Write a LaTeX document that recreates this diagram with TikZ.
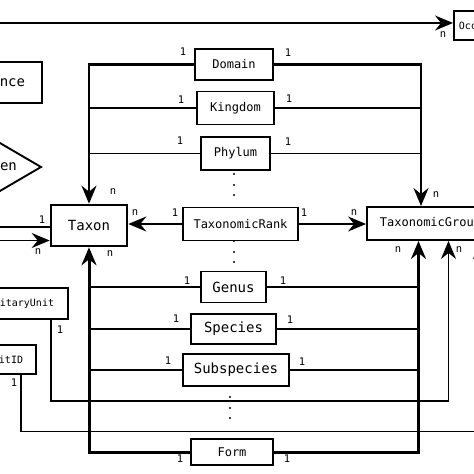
\documentclass[tikz,border=0pt]{standalone}
\usepackage{fontspec}
\setmainfont{DejaVu Sans Mono}
\usetikzlibrary{arrows.meta}
\begin{document}
\begin{tikzpicture}[x=1pt, y=-1pt,
  entity/.style={rectangle, draw, line width=1.9pt, inner sep=0pt, font=\fontsize{12}{14}\selectfont},
  bigentity/.style={entity, font=\fontsize{14}{16}\selectfont},
  smallentity/.style={entity, font=\fontsize{10}{12}\selectfont},
  card/.style={inner sep=0pt, font=\fontsize{10.5}{12}\selectfont},
  conn/.style={line width=1.8pt},
  bold/.style={line width=3pt},
  arrow/.style={-{Stealth[length=18pt, width=15pt, inset=6pt]}}
]
  \useasboundingbox (0,0) rectangle (474,474);
  \clip (0,0) rectangle (474,474);

  % entities
  \node[bigentity, line width=2.6pt, minimum width=76pt, minimum height=41pt] (taxon) at (89,225.5) {Taxon};
  \node[entity, minimum width=115pt, minimum height=33pt] (rank) at (240.5,224) {TaxonomicRank};
  \node[entity, minimum width=127pt, minimum height=33pt] (group) at (430.5,223.5) {TaxonomicGroup};
  \node[entity, minimum width=78pt, minimum height=31pt] (domain) at (234,64.5) {Domain};
  \node[entity, minimum width=77pt, minimum height=33pt] (kingdom) at (235.5,108) {Kingdom};
  \node[entity, minimum width=69pt, minimum height=33pt] (phylum) at (235.5,153.5) {Phylum};
  \node[bigentity, minimum width=65pt, minimum height=31pt] (genus) at (233.5,287) {Genus};
  \node[bigentity, minimum width=85pt, minimum height=30pt] (species) at (233.5,329) {Species};
  \node[bigentity, minimum width=106pt, minimum height=32pt] (subspecies) at (236,370) {Subspecies};
  \node[entity, minimum width=82pt, minimum height=26pt] (form) at (232,452) {Form};

  % cut off at the border
  \node[smallentity, anchor=west, text width=40pt, align=left, inner xsep=5pt, minimum height=29pt] (occ) at (453,25.5) {Occ};
  \node[bigentity, anchor=east, text width=60pt, align=right, inner xsep=17pt, minimum height=41pt] (ref) at (43,82.5) {nce};
  \node[smallentity, anchor=east, text width=60pt, align=right, inner xsep=14pt, minimum height=31pt] (unit) at (69,303.5) {itaryUnit};
  \node[smallentity, anchor=east, text width=40pt, align=right, inner xsep=13pt, minimum height=29pt] (unitid) at (37,359.5) {itID};
  \node[inner sep=0pt, font=\fontsize{14}{16}\selectfont] (specimen) at (8.5,167) {en};
  \draw[line width=1.9pt] (-60,108) -- (41,167) -- (-60,226);

  \coordinate (gtop) at ([xshift=-9.5pt]group.north);
  \coordinate (gbot) at ([xshift=-12pt]group.south);
  \coordinate (west0) at (0,23);
  \coordinate (west1) at (0,227);
  \coordinate (west2) at (0,240.5);

  % connectors
  \draw[conn, arrow] (west0) -- (west0 -| occ.west);
  \draw[conn] (west1) -- (west1 -| taxon.west);
  \draw[conn, arrow] (west2) -- (west2 -| taxon.west);

  \draw[conn, line width=2.3pt, arrow] (domain.west) -| (taxon.north);
  \draw[conn] (kingdom.west) -- (kingdom.west -| taxon.north);
  \draw[conn] (phylum.west) -- (phylum.west -| taxon.north);
  \draw[conn, line width=2.3pt, arrow] (domain.east) -| (gtop);
  \draw[conn] (kingdom.east) -- (kingdom.east -| gtop);
  \draw[conn] (phylum.east) -- (phylum.east -| gtop);

  \draw[conn, arrow] (rank.west) -- (rank.west -| taxon.east);
  \draw[conn, arrow] (rank.east) -- (rank.east -| group.west);

  \draw[bold, arrow] (form.west) -| (taxon.south);
  \draw[conn] (genus.west) -- (genus.west -| taxon.south);
  \draw[conn] (species.west) -- (species.west -| taxon.south);
  \draw[conn] (subspecies.west) -- (subspecies.west -| taxon.south);
  \draw[bold, arrow] (form.east) -| (gbot);
  \draw[conn] (genus.east) -- (genus.east -| gbot);
  \draw[conn] (species.east) -- (species.east -| gbot);
  \draw[conn] (subspecies.east) -- (subspecies.east -| gbot);

  \draw[conn, arrow] ([xshift=-18pt]unit.south east) -- ++(0,81) -| ([xshift=18pt]group.south);
  \draw[conn, arrow] ([xshift=-16pt]unitid.south east) -- ++(0,56.5) -| ([xshift=50pt]group.south);

  % elided ranks
  \foreach \y in {174,185,195,241,252,262} \fill (234,\y) circle (1.1pt);
  \foreach \y in {397,408,418} \fill (230,\y) circle (1.1pt);

  % cardinalities
  \foreach \x/\y/\t [count=\i] in {183/52/1, 288/53/1, 181/100/1, 289/99/1, 180/141/1, 288/142/1,
      113/192/n, 436/195/n, 175/213/1, 135/213/n, 304/213/1, 354/213/n, 42/220/1, 38/252/n,
      110/254/n, 398/250/n, 459/250/n, 187/281/1, 283/281/1, 176/319/1, 290/320/1,
      168/361/1, 302/362/1, 60/330/1, 14/383/1, 180/459/1, 287/459/1, 443/35/n}
    \node[card] (card\i) at (\x,\y) {\t};
\end{tikzpicture}
\end{document}
